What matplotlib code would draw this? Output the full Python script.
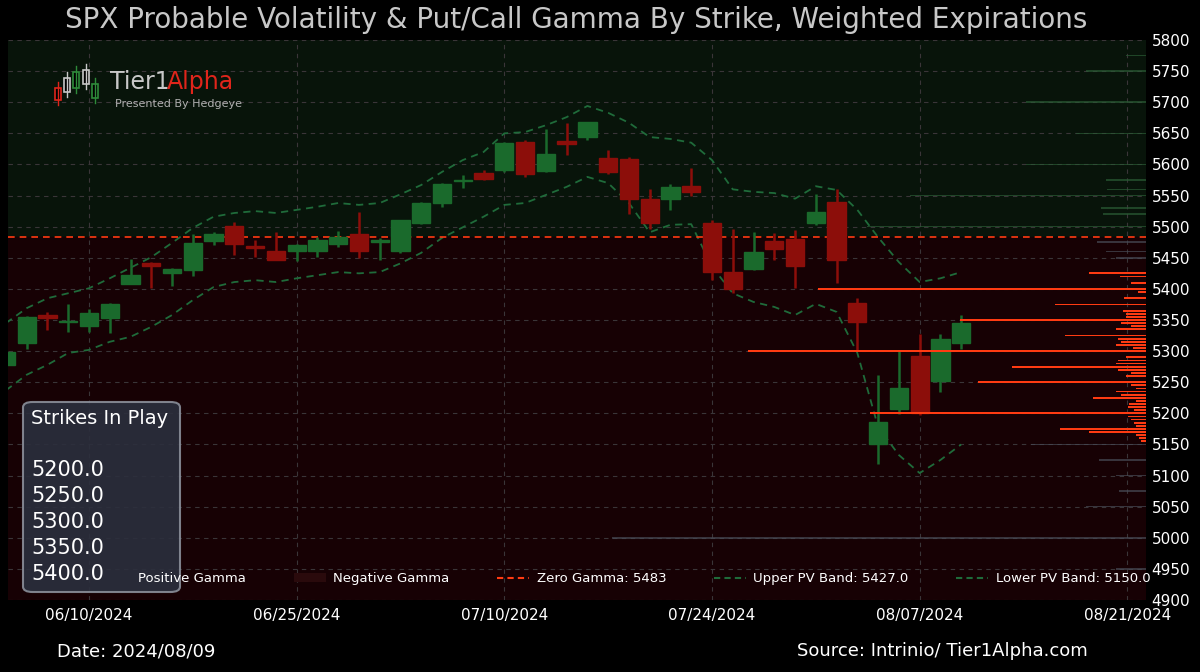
import matplotlib
matplotlib.use("Agg")
import matplotlib.pyplot as plt
from matplotlib.patches import Rectangle, FancyBboxPatch, Patch
from matplotlib.lines import Line2D
import numpy as np

# ---- data ----
day_index = list(range(-4, 43))
opens  = [5278,5313,5358,5346,5340,5353,5408,5442,5426,5430,5477,5501,5468,5461,5461,5461,5472,5488,5475,5461,5506,5538,5573,5586,
          5591,5636,5590,5638,5644,5610,5609,5544,5545,5566,5506,5427,5432,5477,5480,5506,5540,5377,5151,5207,5292,5252,5313]
closes = [5299,5355,5353,5349,5361,5376,5422,5436,5432,5474,5488,5472,5466,5446,5471,5479,5483,5461,5479,5511,5538,5569,5575,5577,
          5634,5585,5617,5633,5668,5588,5545,5506,5564,5556,5427,5400,5459,5464,5437,5524,5446,5347,5186,5241,5200,5319,5345]
highs  = [5310,5357,5363,5376,5367,5377,5448,5443,5433,5488,5491,5508,5479,5491,5472,5483,5493,5524,5482,5511,5540,5570,5583,5591,
          5636,5640,5657,5667,5669,5623,5612,5560,5568,5595,5510,5496,5492,5490,5494,5553,5560,5385,5262,5300,5327,5327,5358]
lows   = [5266,5303,5334,5331,5331,5329,5408,5401,5405,5420,5470,5455,5451,5446,5445,5451,5467,5450,5446,5458,5505,5532,5562,5575,
          5588,5580,5588,5615,5640,5585,5520,5497,5526,5550,5415,5393,5430,5447,5401,5502,5409,5300,5118,5199,5198,5235,5304]
upper_band = [5345,5369,5385,5393,5401,5417,5434,5451,5474,5498,5516,5522,5525,5522,5527,5532,5538,5535,5538,5552,5567,5588,5607,5620,
              5650,5652,5663,5676,5694,5683,5667,5644,5641,5635,5607,5560,5556,5554,5545,5565,5559,5527,5483,5443,5411,5417,5427]
lower_band = [5237,5262,5278,5297,5302,5315,5323,5339,5358,5382,5403,5411,5414,5411,5417,5422,5427,5425,5427,5441,5458,5482,5499,5516,
              5535,5538,5551,5564,5580,5570,5538,5491,5503,5504,5436,5393,5379,5371,5358,5376,5363,5297,5178,5133,5104,5125,5150]
zero_gamma = 5483
tick_idx = [0, 10, 20, 30, 40, 50]
tick_labels = ["06/10/2024", "06/25/2024", "07/10/2024", "07/24/2024", "08/07/2024", "08/21/2024"]

neg_strikes = [5425,5420,5410,5400,5395,5385,5375,5365,5360,5355,5350,5345,5340,5335,5325,5320,5315,5310,5305,5300,
               5290,5285,5280,5275,5270,5265,5260,5250,5245,5240,5235,5230,5225,5220,5215,5210,5205,5200,5195,5190,
               5185,5180,5175,5170,5165,5160,5155]
neg_gamma = [57,26,15,328,8,22,91,23,20,20,186,25,15,30,81,28,25,30,13,398,
             20,28,30,134,28,15,20,168,15,10,30,25,53,10,17,18,12,276,18,15,
             12,10,86,57,10,7,5]
pos_strikes = [5775,5750,5700,5650,5600,5575,5560,5550,5530,5520,5500,5475,5460,5450,5150,5125,5100,5075,5050,5000,4950]
pos_gamma   = [20,60,120,70,120,40,39,236,45,43,279,49,40,30,115,47,30,27,60,534,30]
strikes_in_play = [5200.0, 5250.0, 5300.0, 5350.0, 5400.0]

# ---- figure ----
fig = plt.figure(figsize=(12, 6.72), dpi=100, facecolor="black")
ax = fig.add_axes([8/1200, 72/672, 1138/1200, 560/672])
ax.set_facecolor("#170104")
ax.set_xlim(-3.9, 50.9)
ax.set_ylim(4900, 5800)
ax.axhspan(zero_gamma, 5800, color="#08140a", zorder=0)
ax.axhspan(4900, zero_gamma, color="#170104", zorder=0)

for y in range(4900, 5801, 50):
    ax.axhline(y, color="#3a3538", lw=0.8, ls=(0, (4, 4)), zorder=1)
for t in tick_idx:
    ax.axvline(t, color="#3a3538", lw=0.8, ls=(0, (4, 4)), zorder=1)

# gamma bars on twin axis from the right
axg = ax.twiny()
axg.set_xlim(1138, 0)
axg.set_ylim(4900, 5800)
axg.axis("off")
pos_cols = ["#2a5a34" if s > zero_gamma else "#474a55" for s in pos_strikes]
axg.barh(pos_strikes, pos_gamma, height=2.5, color=pos_cols, alpha=0.7, zorder=2)
axg.barh(neg_strikes, neg_gamma, height=2.8, color="#ff3b12", zorder=2)

# bands
ax.plot(day_index, upper_band, color="#1f6b3a", lw=1.3, ls=(0, (4, 3)), zorder=3)
ax.plot(day_index, lower_band, color="#1f6b3a", lw=1.3, ls=(0, (4, 3)), zorder=3)
ax.axhline(zero_gamma, color="#ff3b12", lw=1.2, ls=(0, (4, 3)), zorder=3)

# candles
w = 0.88
for i, o, c, h, l in zip(day_index, opens, closes, highs, lows):
    col = "#1a6a2c" if c >= o else "#8c0e0a"
    ax.vlines(i, l, h, color=col, lw=1.8, zorder=4)
    lo, hi = min(o, c), max(o, c)
    ax.add_patch(Rectangle((i - w/2, lo), w, max(hi - lo, 2.5), facecolor=col, edgecolor=col, zorder=5))

ax.set_xticks(tick_idx)
ax.set_xticklabels(tick_labels)
ax.yaxis.tick_right()
ax.set_yticks(range(4900, 5801, 50))
ax.tick_params(colors="white", labelsize=11, length=0, pad=4)
ax.tick_params(axis="x", pad=6)
for s in ax.spines.values():
    s.set_visible(False)

# strikes in play box
fig.patches.append(FancyBboxPatch((23/1200, 80/672), 157/1200, 190/672, boxstyle="round,pad=0,rounding_size=0.008",
                                  transform=fig.transFigure, facecolor="#2b2f3d", edgecolor="#8a8f9a", lw=1.5, alpha=0.9))
fig.text(31/1200, 1 - 419/672, "Strikes In Play", color="white", fontsize=14, va="center")
for k, s in enumerate(strikes_in_play):
    fig.text(31/1200, 1 - (470 + 26*k)/672, f"{s:.1f}", color="white", fontsize=15, va="center")

# legend (figure-level so it sits above the box)
handles = [Patch(facecolor="none", edgecolor="none", label="Positive Gamma"),
           Patch(facecolor="#2a0a0c", edgecolor="none", label="Negative Gamma"),
           Line2D([], [], color="#ff3b12", ls=(0, (3, 2)), label=f"Zero Gamma: {zero_gamma}"),
           Line2D([], [], color="#1f6b3a", ls=(0, (3, 2)), label=f"Upper PV Band: {upper_band[-1]:.1f}"),
           Line2D([], [], color="#1f6b3a", ls=(0, (3, 2)), label=f"Lower PV Band: {lower_band[-1]:.1f}")]
leg = fig.legend(handles=handles, loc="lower left", bbox_to_anchor=(87/1200, 75/672), ncol=5, frameon=False,
                 fontsize=9.5, labelcolor="white", columnspacing=3.6, handlelength=2.4, handletextpad=0.6)
leg.set_zorder(10)

# title and footer
fig.text(0.48, 1 - 20/672, "SPX Probable Volatility & Put/Call Gamma By Strike, Weighted Expirations",
         color="#c8c8c8", fontsize=20, ha="center", va="center")
fig.text(57/1200, 1 - 651/672, "Date: 2024/08/09", color="white", fontsize=13, va="center")
fig.text(1088/1200, 1 - 651/672, "Source: Intrinio/ Tier1Alpha.com", color="white", fontsize=13, va="center", ha="right")

# logo
fig.text(110/1200, 1 - 82/672, "Tier1", color="#c8c8c8", fontsize=17, va="center")
fig.text(167/1200, 1 - 82/672, "Alpha", color="#e0251b", fontsize=17, va="center")
fig.text(115/1200, 1 - 104/672, "Presented By Hedgeye", color="#b0b0b0", fontsize=8, va="center")
logo = [(58, 88, 100, "#e0251b"), (67, 78, 92, "#c8c8c8"), (76, 72, 88, "#2e8b3a"), (86, 70, 84, "#c8c8c8"), (95, 84, 98, "#2e8b3a")]
for x, y0, y1, col in logo:
    fig.lines.append(Line2D([x/1200, x/1200], [1 - (y0-6)/672, 1 - (y1+5)/672], transform=fig.transFigure, color=col, lw=1))
    fig.patches.append(Rectangle(((x-3)/1200, 1 - y1/672), 6/1200, (y1-y0)/672, transform=fig.transFigure,
                                 facecolor="black", edgecolor=col, lw=1.2))

fig.savefig("out.png", dpi=100, facecolor="black")
